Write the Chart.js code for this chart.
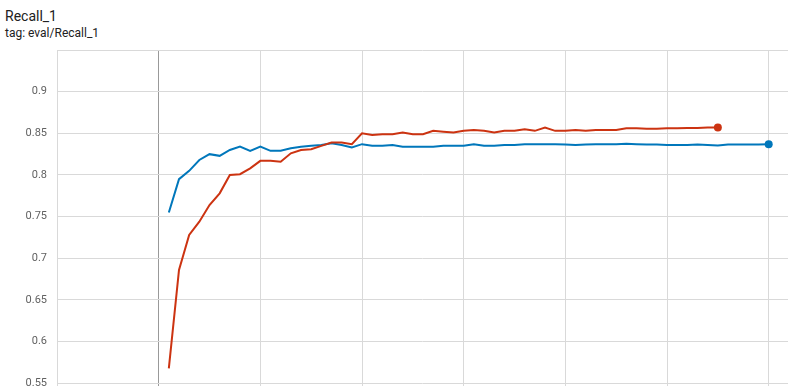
<!DOCTYPE html>
<html>
<head>
<meta charset="utf-8">
<script src="https://cdn.jsdelivr.net/npm/chart.js@4/dist/chart.umd.min.js"></script>
<style>
  html, body { margin: 0; padding: 0; background: #fff; overflow: hidden; width: 792px; height: 386px; }
  #title { position: absolute; left: 5px; top: 7px; font: 14px Roboto, sans-serif; color: #212121; line-height: 18px; }
  #tag { position: absolute; left: 5px; top: 25px; font: 12px Roboto, sans-serif; color: #212121; line-height: 16px; }
  #wrap { position: absolute; left: 0; top: 0; width: 792px; height: 455px; }
</style>
</head>
<body>
<div id="title">Recall_1</div>
<div id="tag">tag: eval/Recall_1</div>
<div id="wrap"><canvas id="c"></canvas></div>
<script>
const steps = [1,2,3,4,5,6,7,8,9,10,11,12,13,14,15,16,17,18,19,20,21,22,23,24,25,26,27,28,29,30,
  31,32,33,34,35,36,37,38,39,40,41,42,43,44,45,46,47,48,49,50,51,52,53,54,55,56,57,58,59,60];

const redSeries = [0.568,0.686,0.728,0.744,0.764,0.778,0.800,0.801,0.808,0.817,
  0.817,0.816,0.826,0.830,0.831,0.835,0.839,0.839,0.837,0.850,
  0.848,0.849,0.849,0.851,0.849,0.849,0.853,0.852,0.851,0.853,
  0.854,0.853,0.851,0.853,0.853,0.855,0.853,0.857,0.853,0.853,
  0.854,0.853,0.854,0.854,0.854,0.856,0.856,0.8555,0.8555,0.856,
  0.856,0.8565,0.8565,0.857,0.857];

const blueSeries = [0.755,0.795,0.805,0.818,0.825,0.823,0.830,0.834,0.829,0.834,
  0.829,0.829,0.832,0.834,0.835,0.836,0.838,0.836,0.833,0.837,
  0.835,0.835,0.836,0.834,0.834,0.834,0.834,0.835,0.835,0.835,
  0.837,0.835,0.835,0.836,0.836,0.837,0.837,0.837,0.837,0.8365,
  0.836,0.8365,0.837,0.837,0.837,0.8375,0.837,0.8365,0.8365,0.836,
  0.836,0.836,0.8365,0.836,0.8355,0.8365,0.8365,0.8365,0.8365,0.837];

const yTicks = [0.95,0.9,0.85,0.8,0.75,0.7,0.65,0.6,0.55,0.5];
const xTicks = [-10,0,10,20,30,40,50,60];

function toPoints(vals) { return vals.map((v, i) => ({ x: steps[i], y: v })); }
function lastDot(ctx) { return ctx.dataIndex === ctx.dataset.data.length - 1 ? 4 : 0; }

new Chart(document.getElementById('c'), {
  type: 'line',
  data: {
    datasets: [
      { label: 'red', data: toPoints(redSeries), borderColor: '#cc3311', backgroundColor: '#cc3311',
        borderWidth: 2, pointRadius: lastDot, pointHoverRadius: lastDot, pointBorderWidth: 0, tension: 0 },
      { label: 'blue', data: toPoints(blueSeries), borderColor: '#0077bb', backgroundColor: '#0077bb',
        borderWidth: 2, pointRadius: lastDot, pointHoverRadius: lastDot, pointBorderWidth: 0, tension: 0 }
    ]
  },
  options: {
    responsive: true,
    maintainAspectRatio: false,
    animation: false,
    devicePixelRatio: 1,
    layout: { padding: { top: 50, right: 0, bottom: 0, left: 0 } },
    plugins: { legend: { display: false }, tooltip: { enabled: false } },
    scales: {
      x: {
        type: 'linear',
        min: -10,
        max: 61.9,
        afterBuildTicks: s => { s.ticks = xTicks.map(v => ({ value: v })); },
        afterFit: s => { s.height = 30; },
        border: { display: false },
        grid: { drawTicks: false, color: c => (c.tick && c.tick.value === 0) ? '#999999' : '#d9d9d9', lineWidth: 1 },
        ticks: { padding: 8, color: '#616161', font: { family: 'Roboto', size: 11 } }
      },
      y: {
        type: 'linear',
        min: 0.5,
        max: 0.95,
        afterBuildTicks: s => { s.ticks = yTicks.map(v => ({ value: v })); },
        afterFit: s => { s.width = 57; },
        border: { display: false },
        grid: { drawTicks: false, color: '#d9d9d9', lineWidth: 1 },
        ticks: { padding: 10, color: '#616161', font: { family: 'Roboto', size: 11 },
          callback: v => (Math.abs(v - 0.95) < 1e-9 ? '' : String(Math.round(v * 100) / 100)) }
      }
    }
  }
});
</script>
</body>
</html>
